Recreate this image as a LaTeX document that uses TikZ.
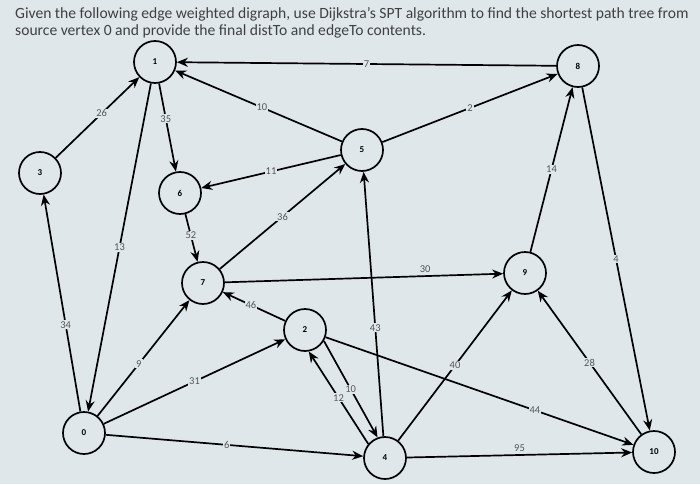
\documentclass[tikz,border=0pt]{standalone}
\usepackage{fontspec}
\setmainfont{Carlito}
\usetikzlibrary{arrows.meta}
\definecolor{bg}{HTML}{DFE7EB}
\definecolor{lbl}{HTML}{555555}
\begin{document}
\begin{tikzpicture}[x=1pt,y=-1pt,
  vtx/.style={circle,draw,line width=1.7pt,minimum size=42pt,inner sep=0pt,font=\bfseries\fontsize{9}{9}\selectfont},
  ed/.style={line width=1.7pt,-{Stealth[length=11pt,width=9pt]}},
  wl/.style={fill=bg,inner sep=1pt,text=lbl,font=\fontsize{10.5}{10.5}\selectfont}]
\fill[bg] (0,0) rectangle (700,484);
\node[anchor=north west,align=left,font=\fontsize{15.6}{17}\selectfont,text=black!75,inner sep=0pt] (title) at (15,7)
 {Given the following edge weighted digraph, use Dijkstra's SPT algorithm to find the shortest path tree from\\source vertex 0 and provide the final distTo and edgeTo contents.};
\node[vtx] (n1) at (155,62) {1};
\node[vtx] (n8) at (578,66) {8};
\node[vtx] (n3) at (40,173) {3};
\node[vtx] (n5) at (362,150) {5};
\node[vtx] (n6) at (180,193) {6};
\node[vtx] (n7) at (203,283) {7};
\node[vtx] (n9) at (525,273) {9};
\node[vtx] (n2) at (305,330) {2};
\node[vtx] (n0) at (84,433) {0};
\node[vtx] (n4) at (385,458) {4};
\node[vtx] (n10) at (654,452) {10};
\draw[ed] (n3) -- node[wl,pos=0.55]{26} (n1);
\draw[ed] (n1) -- node[wl,pos=0.5]{13} (n0);
\draw[ed] (n1) -- node[wl,pos=0.4]{35} (n6);
\draw[ed] (n8) -- node[wl,pos=0.5]{7} (n1);
\draw[ed] (n5) -- node[wl,pos=0.48]{10} (n1);
\draw[ed] (n5) -- node[wl,pos=0.5]{2} (n8);
\draw[ed] (n5) -- node[wl,pos=0.5]{11} (n6);
\draw[ed] (n7) -- node[wl,pos=0.5]{36} (n5);
\draw[ed] (n6) -- node[wl,pos=0.45]{52} (n7);
\draw[ed] (n0) -- node[wl,pos=0.4]{34} (n3);
\draw[ed] (n7) -- node[wl,above=2pt,pos=0.72,fill=none]{30} (n9);
\draw[ed] (n2) -- node[wl,pos=0.55]{46} (n7);
\draw[ed] (n4) -- node[wl,pos=0.41]{43} (n5);
\draw[ed] (n9) -- node[wl,pos=0.5]{14} (n8);
\draw[ed] (n8) -- node[wl,pos=0.5]{4} (n10);
\draw[ed] (n0) -- node[wl,pos=0.45]{9} (n7);
\draw[ed] (n0) -- node[wl,pos=0.5]{31} (n2);
\draw[ed] (n2.-30) -- node[wl,pos=0.5]{10} (n4.110);
\draw[ed] (n4.140) -- node[wl,pos=0.5]{12} (n2.-80);
\draw[ed] (n2) -- node[wl,pos=0.68]{44} (n10);
\draw[ed] (n4) -- node[wl,pos=0.5]{40} (n9);
\draw[ed] (n10) -- node[wl,pos=0.5]{28} (n9);
\draw[ed] (n0) -- node[wl,pos=0.47]{6} (n4);
\draw[ed] (n4) -- node[wl,above=2pt,pos=0.5,fill=none]{95} (n10);
\end{tikzpicture}
\end{document}
